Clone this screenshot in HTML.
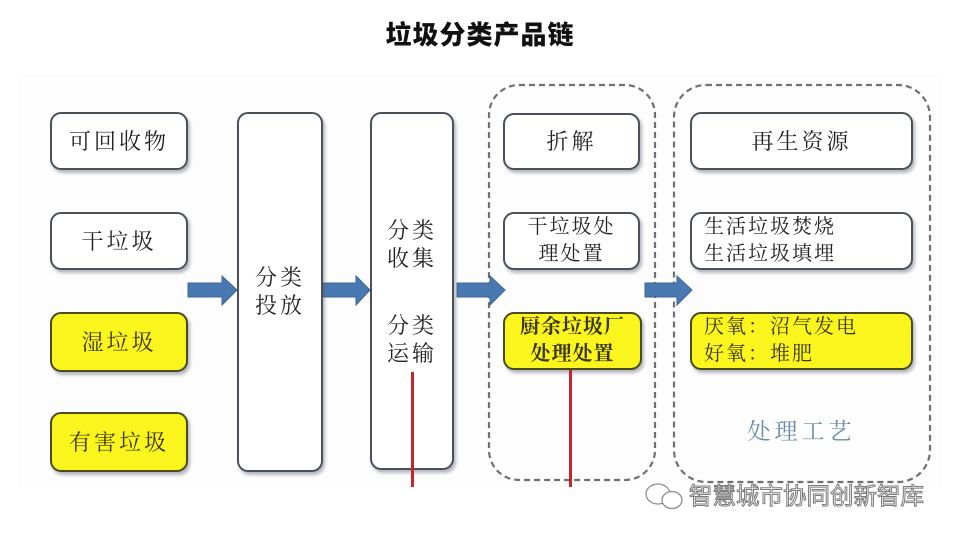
<!DOCTYPE html>
<html>
<head>
<meta charset="utf-8">
<style>
  html,body{margin:0;padding:0;}
  body{width:960px;height:540px;position:relative;background:#fff;overflow:hidden;
       font-family:"Liberation Serif","Noto Serif CJK SC","Noto Serif CJK JP",serif;}
  .bg{position:absolute;left:18px;top:74px;width:924px;height:413px;background:#fdfdfd;}
  .title{position:absolute;left:0;top:17px;width:960px;text-align:center;
         font-family:"Liberation Sans","Noto Sans CJK SC",sans-serif;font-weight:900;
         font-size:26px;line-height:36px;color:#111;letter-spacing:1px;}
  .box{position:absolute;box-sizing:border-box;border:2.5px solid #4b505a;border-radius:11px;
       background:#fff;box-shadow:2px 3px 3px rgba(90,95,110,0.45);
       display:flex;align-items:center;justify-content:center;text-align:center;
       color:#222;font-size:22px;line-height:27px;letter-spacing:3px;}
  .y{background:#fbf51e;border-color:#4a4a20;color:#3a3410;}
  .sm{font-size:20px;letter-spacing:2px;}
  .left{justify-content:flex-start;text-align:left;padding-left:12px;}
  .lbl{position:absolute;color:#222;font-size:22px;line-height:28px;letter-spacing:3px;text-align:center;}
  .red{position:absolute;width:3px;background:#c3262e;}
  svg{position:absolute;left:0;top:0;}
</style>
</head>
<body>
<div class="bg"></div>
<div class="title">垃圾分类产品链</div>

<svg width="960" height="540" viewBox="0 0 960 540">
  <rect x="489" y="85" width="166" height="395" rx="30" ry="30" fill="none" stroke="#6e7076" stroke-width="2.2" stroke-dasharray="6 4"/>
  <rect x="674" y="85" width="256" height="397" rx="32" ry="32" fill="none" stroke="#6e7076" stroke-width="2.2" stroke-dasharray="6 4"/>
  <g fill="#4a78b0" stroke="#3a6598" stroke-width="1">
    <polygon points="188,283 222,283 222,276 237,290 222,305 222,297 188,297"/>
    <polygon points="323,283 356,283 356,276 370,290 356,305 356,297 323,297"/>
    <polygon points="457,283 490,283 490,276 505,290 490,305 490,297 457,297"/>
    <polygon points="645,283 677,283 677,276 692,290 677,305 677,297 645,297"/>
  </g>
</svg>

<div class="box" style="left:50px;top:112px;width:138px;height:58px;">可回收物</div>
<div class="box" style="left:50px;top:212px;width:138px;height:58px;">干垃圾</div>
<div class="box y" style="left:50px;top:312px;width:138px;height:60px;">湿垃圾</div>
<div class="box y" style="left:50px;top:412px;width:138px;height:60px;">有害垃圾</div>

<div class="box" style="left:237px;top:112px;width:86px;height:360px;"></div>
<div class="lbl" style="left:237px;top:264px;width:86px;">分类<br>投放</div>

<div class="box" style="left:370px;top:112px;width:84px;height:358px;"></div>
<div class="lbl" style="left:370px;top:217px;width:84px;">分类<br>收集</div>
<div class="lbl" style="left:370px;top:312px;width:84px;">分类<br>运输</div>
<div class="red" style="left:411px;top:372px;height:115px;"></div>

<div class="box" style="left:503px;top:113px;width:137px;height:57px;">折解</div>
<div class="box sm" style="left:503px;top:212px;width:137px;height:58px;">干垃圾处<br>理处置</div>
<div class="box y sm" style="left:503px;top:312px;width:139px;height:58px;font-weight:bold;letter-spacing:1px;">厨余垃圾厂<br>处理处置</div>
<div class="red" style="left:569px;top:370px;height:117px;"></div>

<div class="box" style="left:690px;top:112px;width:223px;height:58px;">再生资源</div>
<div class="box left sm" style="left:690px;top:212px;width:223px;height:58px;">生活垃圾焚烧<br>生活垃圾填埋</div>
<div class="box y left sm" style="left:690px;top:312px;width:223px;height:58px;">厌氧：沼气发电<br>好氧：堆肥</div>
<div class="lbl" style="left:690px;top:418px;width:223px;color:#6b8aa6;font-size:23px;letter-spacing:4px;">处理工艺</div>

<svg width="960" height="540" viewBox="0 0 960 540">
  <g fill="#fff" stroke="#888" stroke-width="1.2">
    <ellipse cx="658" cy="494" rx="12" ry="10"/>
    <ellipse cx="672" cy="500" rx="10" ry="8.5"/>
  </g>
</svg>
<div style="position:absolute;left:689px;top:482px;font-family:'Liberation Sans','Noto Sans CJK SC',sans-serif;font-size:23.5px;line-height:28px;color:#fff;-webkit-text-stroke:1px #7a7a7a;white-space:nowrap;">智慧城市协同创新智库</div>
</body>
</html>
